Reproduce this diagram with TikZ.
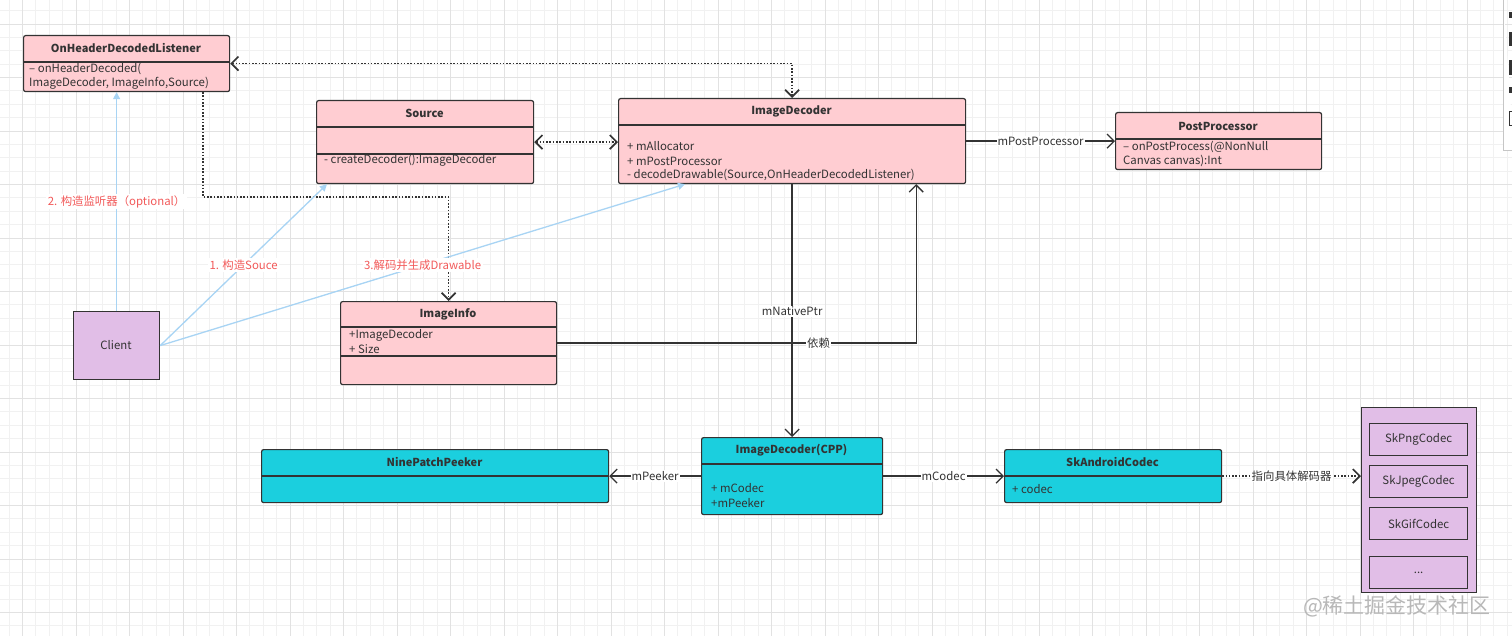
\documentclass[tikz,border=0pt]{standalone}
\usepackage{fontspec}
\setmainfont{Noto Sans CJK SC}
\usetikzlibrary{arrows.meta}
\definecolor{pinkf}{HTML}{FFCDD2}
\definecolor{cyanf}{HTML}{1BCFDE}
\definecolor{purpf}{HTML}{E1BEE7}
\definecolor{edge}{HTML}{333333}
\definecolor{bluel}{HTML}{A8D4F4}
\definecolor{redt}{HTML}{F25A5A}
\definecolor{gridminor}{HTML}{F1F1F1}
\definecolor{gridmajor}{HTML}{E2E2E2}
\definecolor{wmark}{HTML}{B8B8B8}
\newcommand\myfs{\fontsize{11.4}{13}\selectfont}
\newcommand\mytfs{\fontsize{11}{13}\selectfont}
\begin{document}
\begin{tikzpicture}[x=1pt,y=-1pt,
  box/.style={draw=edge, line width=1.2pt, rounded corners=2pt, anchor=north west, inner sep=0pt},
  pinkbox/.style={box, fill=pinkf},
  cyanbox/.style={box, fill=cyanf},
  purpbox/.style={draw=edge, line width=1.2pt, fill=purpf, anchor=north west, inner sep=0pt},
  divider/.style={draw=edge, line width=1.2pt},
  ttl/.style={font=\mytfs\bfseries, text=edge, inner sep=0pt},
  body/.style={font=\myfs, text=edge, anchor=west, inner sep=0pt},
  conn/.style={draw=edge, line width=1.3pt},
  barb/.style={-{Straight Barb[length=7pt,width=14pt]}},
  dbarb/.style={{Straight Barb[length=7pt,width=14pt]}-{Straight Barb[length=7pt,width=14pt]}},
  dots/.style={line width=1.7pt, dash pattern=on 1.6pt off 1.7pt},
  lbl/.style={fill=white, inner sep=1pt, font=\myfs, text=edge},
  bluearr/.style={draw=bluel, line width=1.3pt, -{Triangle[length=7pt,width=7pt]}},
  redlbl/.style={fill=white, inner sep=1.5pt, font=\myfs, text=redt}
]
% canvas
\fill[white] (0,0) rectangle (1512,636);
\useasboundingbox (0,0) rectangle (1512,636);
% grid
\foreach \i in {0,...,112} \draw[gridminor, line width=0.8pt] ({9.125+13.375*\i},0) -- ({9.125+13.375*\i},636);
\foreach \i in {0,...,46} \draw[gridminor, line width=0.8pt] (0,{10.625+13.375*\i}) -- (1512,{10.625+13.375*\i});
\foreach \i in {0,...,27} \draw[gridmajor, line width=0.8pt] ({22.5+53.5*\i},0) -- ({22.5+53.5*\i},636);
\foreach \i in {0,...,11} \draw[gridmajor, line width=0.8pt] (0,{24+53.5*\i}) -- (1512,{24+53.5*\i});

% ---------- boxes ----------
% OnHeaderDecodedListener
\node[pinkbox, minimum width=206pt, minimum height=56pt] (lis) at (23,35) {};
\draw[divider] (23,62) -- (229,62);
\node[ttl] (lisT) at (126,48.5) {OnHeaderDecodedListener};
\node[body] (lis1) at (29,69) {– onHeaderDecoded(};
\node[body] (lis2) at (29,83) {ImageDecoder, ImageInfo,Source)};

% Source
\node[pinkbox, minimum width=217pt, minimum height=83pt] (src) at (316,100) {};
\draw[divider] (316,127) -- (533,127);
\draw[divider] (316,154) -- (533,154);
\node[ttl] (srcT) at (424.5,113.5) {Source};
\node[body] (src1) at (324,160) {- createDecoder():ImageDecoder};

% ImageDecoder
\node[pinkbox, minimum width=347pt, minimum height=85pt] (idec) at (618,98) {};
\draw[divider] (618,125) -- (965,125);
\node[ttl] (idecT) at (791.5,111.5) {ImageDecoder};
\node[body] (idec1) at (627,146) {+ mAllocator};
\node[body] (idec2) at (627,161) {+ mPostProcessor};
\node[body] (idec3) at (627,175) {- decodeDrawable(Source,OnHeaderDecodedListener)};

% PostProcessor
\node[pinkbox, minimum width=206pt, minimum height=57pt] (pp) at (1115,112) {};
\draw[divider] (1115,139) -- (1321,139);
\node[ttl] (ppT) at (1218,126) {PostProcessor};
\node[body] (pp1) at (1123,147) {– onPostProcess(@NonNull};
\node[body] (pp2) at (1123,161) {Canvas canvas):Int};

% Client
\node[purpbox, minimum width=86pt, minimum height=68pt] (client) at (73,311) {};
\node[font=\myfs, text=edge, inner sep=0pt] (clientT) at (116,345) {Client};

% ImageInfo
\node[pinkbox, minimum width=216pt, minimum height=83pt] (info) at (340,301) {};
\draw[divider] (340,327) -- (556,327);
\draw[divider] (340,356) -- (556,356);
\node[ttl] (infoT) at (448,314) {ImageInfo};
\node[body] (info1) at (349,335) {+ImageDecoder};
\node[body] (info2) at (349,349) {+ Size};

% NinePatchPeeker
\node[cyanbox, minimum width=347pt, minimum height=53pt] (npp) at (261,449) {};
\draw[divider] (261,476) -- (608,476);
\node[ttl] (nppT) at (434.5,462.5) {NinePatchPeeker};

% ImageDecoder(CPP)
\node[cyanbox, minimum width=181pt, minimum height=77pt] (cpp) at (701,437) {};
\draw[divider] (701,464) -- (882,464);
\node[ttl] (cppT) at (791.5,450.5) {ImageDecoder(CPP)};
\node[body] (cpp1) at (711,488) {+ mCodec};
\node[body] (cpp2) at (711,503) {+mPeeker};

% SkAndroidCodec
\node[cyanbox, minimum width=217pt, minimum height=53pt] (ska) at (1004,449) {};
\draw[divider] (1004,476) -- (1221,476);
\node[ttl] (skaT) at (1112.5,462.5) {SkAndroidCodec};
\node[body] (ska1) at (1012,489) {+ codec};

% container of codecs
\node[purpbox, minimum width=115pt, minimum height=185pt] (cont) at (1361,407) {};
\node[purpbox, minimum width=98pt, minimum height=32pt] (png) at (1369,423) {};
\node[font=\myfs, text=edge] (pngT) at (png.center) {SkPngCodec};
\node[purpbox, minimum width=98pt, minimum height=32pt] (jpg) at (1369,465) {};
\node[font=\myfs, text=edge] (jpgT) at (jpg.center) {SkJpegCodec};
\node[purpbox, minimum width=98pt, minimum height=32pt] (gif) at (1369,507) {};
\node[font=\myfs, text=edge] (gifT) at (gif.center) {SkGifCodec};
\node[purpbox, minimum width=98pt, minimum height=32pt] (more) at (1369,556) {};
\node[font=\myfs, text=edge] (moreT) at (more.center) {...};

% ---------- connectors ----------
\draw[conn, dots, dbarb] (lis.east) -| (idec.north);
\draw[conn, dots, barb] ([xshift=-27pt]lis.south east) -- ++(0,105) -| (info.north);
\draw[conn, dots, dbarb] (src.east) -- (src.east -| idec.west);
\draw[conn, barb] (idec.east) -- node[lbl, pos=0.5] (lPP) {mPostProcessor} (pp.west);
\draw[conn, barb] (idec.south) -- node[lbl, pos=0.504] (lNP) {mNativePtr} (cpp.north);
\draw[conn, barb] (info.east) -| node[lbl, pos=0.364] (lDep) {依赖} ([xshift=-50pt]idec.south east);
\draw[conn, barb] (cpp.west) -- node[lbl, pos=0.5] (lPk) {mPeeker} (npp.east);
\draw[conn, barb] (cpp.east) -- node[lbl, pos=0.5] (lCd) {mCodec} (ska.west);
\draw[conn, dots, barb] (ska.east) -- node[lbl, pos=0.5] (lPt) {指向具体解码器} (ska.east -| cont.west);

% blue client arrows
\draw[bluearr] (client.north) -- node[redlbl, pos=0.5] (l2) {2. 构造监听器（optional）} (client.north |- lis.south);
\draw[bluearr] (client.east) -- node[redlbl, pos=0.5] (l1) {1. 构造Souce} ([xshift=11pt]src.south west);
\draw[bluearr] (client.east) -- node[redlbl, pos=0.5] (l3) {3.解码并生成Drawable} ([xshift=67pt]idec.south west);

% watermark
\node[font=\fontsize{21}{24}\selectfont, text=wmark, inner sep=0pt] (wm) at (1397,606) {@稀土掘金技术社区};

% right-edge panel
\draw[gray!45, fill=white, line width=0.8pt] (1503,-2) -- (1503,150) -- (1514,150);
\fill[edge] (1509,12) rectangle (1512,18);
\fill[edge] (1509,32) rectangle (1512,46);
\fill[edge] (1509,60) rectangle (1512,75);
\fill[edge] (1509,87) rectangle (1512,93);
\draw[edge, line width=0.8pt] (1512,111) -- (1509,111) -- (1509,125) -- (1512,125);
\end{tikzpicture}
\end{document}
